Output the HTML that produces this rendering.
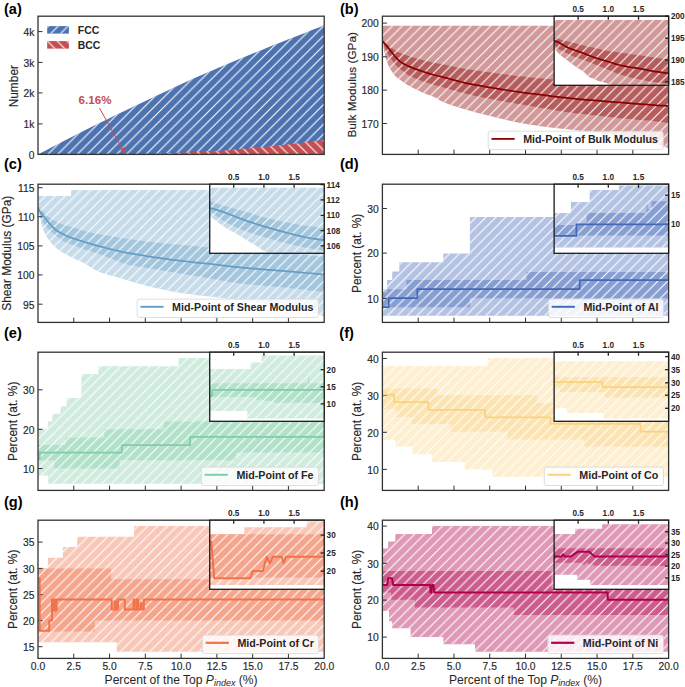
<!DOCTYPE html><html><head><meta charset="utf-8"><style>html,body{margin:0;padding:0;background:#fff;overflow:hidden}svg{display:block;font-family:"Liberation Sans",sans-serif}</style></head><body><svg width="685" height="687" viewBox="0 0 685 687" font-family="Liberation Sans, sans-serif"><defs><pattern id="hf" patternUnits="userSpaceOnUse" x="5.7" y="0" width="9.824" height="9.824"><path d="M-2,2 L2,-2 M0,9.824 L9.824,0 M7.824,11.824 L11.824,7.824" stroke="#fff" stroke-width="1.05"/></pattern><pattern id="hb" patternUnits="userSpaceOnUse" x="6.3" y="0" width="9.824" height="9.824"><path d="M-2,7.824 L2,11.824 M0,0 L9.824,9.824 M7.824,-2 L11.824,2" stroke="#fff" stroke-width="1.05"/></pattern><clipPath id="ca"><rect x="38" y="16.2" width="286.2" height="138.2"/></clipPath><clipPath id="cb"><rect x="382.4" y="16.2" width="286.2" height="138.2"/></clipPath><clipPath id="cbi"><rect x="554.12" y="16.2" width="114.48" height="69.1"/></clipPath><clipPath id="cc"><rect x="38" y="184.2" width="286.2" height="138.2"/></clipPath><clipPath id="cci"><rect x="209.72" y="184.2" width="114.48" height="69.1"/></clipPath><clipPath id="cd"><rect x="382.4" y="184.2" width="286.2" height="138.2"/></clipPath><clipPath id="cdi"><rect x="554.12" y="184.2" width="114.48" height="69.1"/></clipPath><clipPath id="ce"><rect x="38" y="352.2" width="286.2" height="138.2"/></clipPath><clipPath id="cei"><rect x="209.72" y="352.2" width="114.48" height="69.1"/></clipPath><clipPath id="cf"><rect x="382.4" y="352.2" width="286.2" height="138.2"/></clipPath><clipPath id="cfi"><rect x="554.12" y="352.2" width="114.48" height="69.1"/></clipPath><clipPath id="cg"><rect x="38" y="520.2" width="286.2" height="138.2"/></clipPath><clipPath id="cgi"><rect x="209.72" y="520.2" width="114.48" height="69.1"/></clipPath><clipPath id="ch"><rect x="382.4" y="520.2" width="286.2" height="138.2"/></clipPath><clipPath id="chi"><rect x="554.12" y="520.2" width="114.48" height="69.1"/></clipPath></defs><rect width="100%" height="100%" fill="#fff"/><g clip-path="url(#ca)"><polygon points="38,154.4 41.64,152.53 46.23,150.16 51.62,147.37 57.68,144.24 64.27,140.84 71.27,137.24 78.54,133.54 85.94,129.79 93.34,126.09 100.6,122.5 107.99,118.89 115.79,115.1 123.91,111.18 132.23,107.18 140.67,103.15 149.12,99.14 157.47,95.2 165.64,91.38 173.52,87.73 181,84.3 188.04,81.11 194.72,78.11 201.13,75.27 207.35,72.55 213.47,69.91 219.58,67.3 225.77,64.68 232.13,62.02 238.74,59.27 245.7,56.4 253.34,53.28 261.77,49.89 270.71,46.33 279.87,42.7 288.99,39.11 297.79,35.65 305.99,32.44 313.3,29.58 319.47,27.16 324.2,25.3 324.2,154.6 38,154.6" fill="#4c72b0"/><polygon points="38,154.4 41.64,152.53 46.23,150.16 51.62,147.37 57.68,144.24 64.27,140.84 71.27,137.24 78.54,133.54 85.94,129.79 93.34,126.09 100.6,122.5 107.99,118.89 115.79,115.1 123.91,111.18 132.23,107.18 140.67,103.15 149.12,99.14 157.47,95.2 165.64,91.38 173.52,87.73 181,84.3 188.04,81.11 194.72,78.11 201.13,75.27 207.35,72.55 213.47,69.91 219.58,67.3 225.77,64.68 232.13,62.02 238.74,59.27 245.7,56.4 253.34,53.28 261.77,49.89 270.71,46.33 279.87,42.7 288.99,39.11 297.79,35.65 305.99,32.44 313.3,29.58 319.47,27.16 324.2,25.3 324.2,154.6 38,154.6" fill="url(#hf)"/><polygon points="140,154.6 141.59,154.52 143.81,154.41 146.63,154.27 150,154.1 154.21,153.87 159.19,153.6 164.32,153.33 169,153.1 173.05,152.94 176.81,152.83 180.41,152.73 184,152.6 187.55,152.44 191,152.27 194.45,152.09 198,151.9 201.68,151.71 205.44,151.51 209.23,151.3 213,151.1 216.94,150.9 221,150.69 224.81,150.49 228,150.3 230.17,150.13 231.62,149.97 233.02,149.8 235,149.6 237.83,149.36 241.12,149.09 244.61,148.8 248,148.5 251.25,148.19 254.5,147.86 257.75,147.53 261,147.2 264.23,146.88 267.44,146.56 270.68,146.23 274,145.9 277.45,145.56 281,145.22 284.55,144.87 288,144.5 291.32,144.12 294.56,143.72 297.77,143.31 301,142.9 304.32,142.47 307.68,142.02 310.95,141.59 314,141.2 316.99,140.84 319.91,140.49 322.43,140.2 324.2,140 324.2,154.6" fill="#c44e52"/><polygon points="140,154.6 141.59,154.52 143.81,154.41 146.63,154.27 150,154.1 154.21,153.87 159.19,153.6 164.32,153.33 169,153.1 173.05,152.94 176.81,152.83 180.41,152.73 184,152.6 187.55,152.44 191,152.27 194.45,152.09 198,151.9 201.68,151.71 205.44,151.51 209.23,151.3 213,151.1 216.94,150.9 221,150.69 224.81,150.49 228,150.3 230.17,150.13 231.62,149.97 233.02,149.8 235,149.6 237.83,149.36 241.12,149.09 244.61,148.8 248,148.5 251.25,148.19 254.5,147.86 257.75,147.53 261,147.2 264.23,146.88 267.44,146.56 270.68,146.23 274,145.9 277.45,145.56 281,145.22 284.55,144.87 288,144.5 291.32,144.12 294.56,143.72 297.77,143.31 301,142.9 304.32,142.47 307.68,142.02 310.95,141.59 314,141.2 316.99,140.84 319.91,140.49 322.43,140.2 324.2,140 324.2,154.6" fill="url(#hb)"/></g><text x="78.6" y="103.7" font-size="11.6" text-anchor="start" font-weight="bold" fill="#c44e52" >6.16%</text><line x1="99.5" y1="108.2" x2="122.2" y2="148.5" stroke="#c44e52" stroke-width="1"/><polygon points="124.6,152.9 120.0,149.7 125.1,146.8" fill="#c44e52"/><rect x="47.2" y="26.1" width="21.7" height="7.5" fill="#4c72b0"/><rect x="47.2" y="26.1" width="21.7" height="7.5" fill="url(#hf)"/><rect x="47.2" y="41.1" width="21.7" height="7.5" fill="#c44e52"/><rect x="47.2" y="41.1" width="21.7" height="7.5" fill="url(#hb)"/><text x="77.8" y="33.6" font-size="10.4" text-anchor="start" font-weight="bold" fill="#262626" >FCC</text><text x="77.8" y="48.5" font-size="10.4" text-anchor="start" font-weight="bold" fill="#262626" >BCC</text><line x1="38" y1="154.4" x2="42.5" y2="154.4" stroke="#333333" stroke-width="1"/><text x="34.4" y="158.7" font-size="10.3" text-anchor="end" font-weight="normal" fill="#262626" stroke="#262626" stroke-width="0.15" >0</text><line x1="38" y1="123.9" x2="42.5" y2="123.9" stroke="#333333" stroke-width="1"/><text x="34.4" y="128.2" font-size="10.3" text-anchor="end" font-weight="normal" fill="#262626" stroke="#262626" stroke-width="0.15" >1k</text><line x1="38" y1="92.9" x2="42.5" y2="92.9" stroke="#333333" stroke-width="1"/><text x="34.4" y="97.2" font-size="10.3" text-anchor="end" font-weight="normal" fill="#262626" stroke="#262626" stroke-width="0.15" >2k</text><line x1="38" y1="62.4" x2="42.5" y2="62.4" stroke="#333333" stroke-width="1"/><text x="34.4" y="66.7" font-size="10.3" text-anchor="end" font-weight="normal" fill="#262626" stroke="#262626" stroke-width="0.15" >3k</text><line x1="38" y1="31.6" x2="42.5" y2="31.6" stroke="#333333" stroke-width="1"/><text x="34.4" y="35.9" font-size="10.3" text-anchor="end" font-weight="normal" fill="#262626" stroke="#262626" stroke-width="0.15" >4k</text><rect x="38" y="16.2" width="286.2" height="138.2" fill="none" stroke="#333333" stroke-width="1.3"/><text x="18.4" y="86.2" font-size="11.9" text-anchor="middle" fill="#262626" stroke="#262626" stroke-width="0.15" transform="rotate(-90 18.4 86.2)">Number</text><text x="4" y="13.9" font-size="14.6" font-weight="bold" fill="#000">(a)</text><g clip-path="url(#cb)"><polygon points="382.4,25.8 668.6,25.8 668.6,148 664.89,146.9 659.77,145.33 653.63,143.51 646.91,141.66 640,140 632.73,138.5 624.82,137.01 616.55,135.57 608.18,134.22 600,133 591.86,131.93 583.57,131 575.35,130.14 567.42,129.33 560,128.5 553.1,127.68 546.59,126.9 540.42,126.13 534.57,125.34 529,124.5 523.79,123.61 518.95,122.68 514.38,121.74 509.97,120.77 505.6,119.8 501.33,118.83 497.23,117.85 493.22,116.85 489.24,115.84 485.2,114.8 481.1,113.75 477,112.69 472.9,111.61 468.8,110.48 464.7,109.3 460.4,108 455.89,106.58 451.5,105.15 447.53,103.79 444.3,102.6 442.01,101.59 440.45,100.7 439.33,99.91 438.34,99.18 437.2,98.5 435.9,97.87 434.64,97.32 433.42,96.82 432.24,96.36 431.1,95.9 430.02,95.46 428.99,95.06 427.99,94.68 427,94.3 426,93.9 424.98,93.49 423.96,93.09 422.94,92.67 421.92,92.25 420.9,91.8 419.88,91.33 418.86,90.83 417.84,90.33 416.82,89.81 415.8,89.3 414.78,88.79 413.76,88.29 412.75,87.78 411.73,87.25 410.7,86.7 409.66,86.12 408.62,85.52 407.58,84.89 406.54,84.25 405.5,83.6 404.47,82.94 403.45,82.26 402.44,81.56 401.42,80.84 400.4,80.1 399.38,79.37 398.36,78.65 397.34,77.89 396.32,77.03 395.3,76 394.24,74.72 393.14,73.24 392.05,71.68 391.05,70.16 390.2,68.8 389.54,67.7 389.02,66.76 388.58,65.86 388.16,64.88 387.7,63.7 387.18,62.31 386.64,60.79 386.1,59.14 385.58,57.38 385.1,55.5 384.64,53.3 384.19,50.78 383.78,48.25 383.41,45.99 383.1,44.3 382.87,43.31 382.69,42.82 382.57,42.64 382.47,42.59 382.4,42.5" fill="#d19999"/><polygon points="382.4,40 382.39,40.01 382.32,39.97 382.33,39.99 382.54,40.2 383.1,40.7 384.14,41.63 385.58,42.91 387.2,44.35 388.81,45.74 390.2,46.9 391.35,47.79 392.38,48.54 393.36,49.19 394.31,49.8 395.3,50.4 396.24,50.96 397.09,51.45 397.99,51.92 399.05,52.42 400.4,53 402.13,53.7 404.15,54.48 406.34,55.29 408.56,56.08 410.7,56.8 412.75,57.43 414.79,58 416.82,58.54 418.86,59.07 420.9,59.6 422.94,60.14 424.98,60.68 427.02,61.21 429.06,61.72 431.1,62.2 433.16,62.64 435.25,63.06 437.33,63.46 439.36,63.84 441.3,64.2 443.04,64.52 444.6,64.8 446.16,65.08 447.9,65.4 450,65.8 452.46,66.31 455.17,66.9 458.11,67.54 461.29,68.18 464.7,68.8 468.43,69.39 472.49,69.97 476.73,70.55 481.01,71.13 485.2,71.7 489.3,72.27 493.42,72.85 497.52,73.42 501.59,73.97 505.6,74.5 509.41,74.99 513.02,75.44 516.67,75.88 520.59,76.32 525,76.8 529.57,77.29 534.16,77.79 539.25,78.31 545.36,78.87 553,79.5 562.64,80.23 573.93,81.05 586.18,81.91 598.67,82.74 610.7,83.5 623.19,84.21 636.62,84.92 649.6,85.56 660.72,86.11 668.6,86.5 668.6,123 666.6,122.73 663.84,122.34 660.52,121.9 656.84,121.43 653,121 649.04,120.62 644.84,120.27 640.31,119.91 635.39,119.5 630,119 623.86,118.39 617.02,117.68 609.9,116.93 602.92,116.19 596.5,115.5 590.73,114.9 585.32,114.35 580.16,113.82 575.09,113.25 570,112.6 564.82,111.85 559.65,111.02 554.57,110.15 549.66,109.3 545,108.5 540.67,107.76 536.61,107.04 532.72,106.35 528.88,105.67 525,105 521.1,104.35 517.24,103.73 513.4,103.11 509.53,102.47 505.6,101.8 501.59,101.09 497.52,100.37 493.42,99.61 489.3,98.83 485.2,98 481.01,97.11 476.73,96.16 472.49,95.18 468.43,94.22 464.7,93.3 461.29,92.41 458.11,91.54 455.17,90.69 452.46,89.9 450,89.2 447.9,88.62 446.16,88.14 444.6,87.71 443.04,87.28 441.3,86.8 439.36,86.28 437.33,85.74 435.25,85.19 433.16,84.61 431.1,84 429.06,83.35 427.02,82.67 424.98,81.97 422.94,81.24 420.9,80.5 418.78,79.72 416.58,78.91 414.42,78.09 412.42,77.28 410.7,76.5 409.34,75.77 408.26,75.07 407.33,74.39 406.45,73.7 405.5,73 404.47,72.29 403.45,71.59 402.44,70.87 401.42,70.11 400.4,69.3 399.38,68.44 398.36,67.56 397.34,66.62 396.32,65.61 395.3,64.5 394.26,63.26 393.21,61.91 392.17,60.48 391.16,59.03 390.2,57.6 389.3,56.18 388.44,54.74 387.61,53.29 386.83,51.84 386.1,50.4 385.39,48.88 384.71,47.27 384.08,45.72 383.54,44.35 383.1,43.3 382.8,42.65 382.62,42.3 382.52,42.15 382.46,42.08 382.4,42" fill="#b55c5c"/><polygon points="382.4,25.8 668.6,25.8 668.6,148 664.89,146.9 659.77,145.33 653.63,143.51 646.91,141.66 640,140 632.73,138.5 624.82,137.01 616.55,135.57 608.18,134.22 600,133 591.86,131.93 583.57,131 575.35,130.14 567.42,129.33 560,128.5 553.1,127.68 546.59,126.9 540.42,126.13 534.57,125.34 529,124.5 523.79,123.61 518.95,122.68 514.38,121.74 509.97,120.77 505.6,119.8 501.33,118.83 497.23,117.85 493.22,116.85 489.24,115.84 485.2,114.8 481.1,113.75 477,112.69 472.9,111.61 468.8,110.48 464.7,109.3 460.4,108 455.89,106.58 451.5,105.15 447.53,103.79 444.3,102.6 442.01,101.59 440.45,100.7 439.33,99.91 438.34,99.18 437.2,98.5 435.9,97.87 434.64,97.32 433.42,96.82 432.24,96.36 431.1,95.9 430.02,95.46 428.99,95.06 427.99,94.68 427,94.3 426,93.9 424.98,93.49 423.96,93.09 422.94,92.67 421.92,92.25 420.9,91.8 419.88,91.33 418.86,90.83 417.84,90.33 416.82,89.81 415.8,89.3 414.78,88.79 413.76,88.29 412.75,87.78 411.73,87.25 410.7,86.7 409.66,86.12 408.62,85.52 407.58,84.89 406.54,84.25 405.5,83.6 404.47,82.94 403.45,82.26 402.44,81.56 401.42,80.84 400.4,80.1 399.38,79.37 398.36,78.65 397.34,77.89 396.32,77.03 395.3,76 394.24,74.72 393.14,73.24 392.05,71.68 391.05,70.16 390.2,68.8 389.54,67.7 389.02,66.76 388.58,65.86 388.16,64.88 387.7,63.7 387.18,62.31 386.64,60.79 386.1,59.14 385.58,57.38 385.1,55.5 384.64,53.3 384.19,50.78 383.78,48.25 383.41,45.99 383.1,44.3 382.87,43.31 382.69,42.82 382.57,42.64 382.47,42.59 382.4,42.5" fill="url(#hf)"/></g><line x1="418.17" y1="154.4" x2="418.17" y2="149.6" stroke="#333333" stroke-width="1"/><line x1="453.95" y1="154.4" x2="453.95" y2="149.6" stroke="#333333" stroke-width="1"/><line x1="489.72" y1="154.4" x2="489.72" y2="149.6" stroke="#333333" stroke-width="1"/><line x1="525.5" y1="154.4" x2="525.5" y2="149.6" stroke="#333333" stroke-width="1"/><line x1="561.27" y1="154.4" x2="561.27" y2="149.6" stroke="#333333" stroke-width="1"/><line x1="597.05" y1="154.4" x2="597.05" y2="149.6" stroke="#333333" stroke-width="1"/><line x1="632.82" y1="154.4" x2="632.82" y2="149.6" stroke="#333333" stroke-width="1"/><line x1="382.4" y1="23.1" x2="386.9" y2="23.1" stroke="#333333" stroke-width="1"/><text x="378.8" y="27.4" font-size="10.3" text-anchor="end" font-weight="normal" fill="#262626" stroke="#262626" stroke-width="0.15" >200</text><line x1="382.4" y1="56.8" x2="386.9" y2="56.8" stroke="#333333" stroke-width="1"/><text x="378.8" y="61.1" font-size="10.3" text-anchor="end" font-weight="normal" fill="#262626" stroke="#262626" stroke-width="0.15" >190</text><line x1="382.4" y1="90.1" x2="386.9" y2="90.1" stroke="#333333" stroke-width="1"/><text x="378.8" y="94.4" font-size="10.3" text-anchor="end" font-weight="normal" fill="#262626" stroke="#262626" stroke-width="0.15" >180</text><line x1="382.4" y1="123.5" x2="386.9" y2="123.5" stroke="#333333" stroke-width="1"/><text x="378.8" y="127.8" font-size="10.3" text-anchor="end" font-weight="normal" fill="#262626" stroke="#262626" stroke-width="0.15" >170</text><g clip-path="url(#cb)"><polyline points="382.4,41 382.46,41.07 382.52,41.13 382.62,41.25 382.8,41.45 383.1,41.8 383.54,42.3 384.08,42.93 384.71,43.66 385.39,44.45 386.1,45.3 386.85,46.22 387.66,47.22 388.51,48.28 389.36,49.35 390.2,50.4 391.02,51.43 391.84,52.46 392.66,53.5 393.48,54.51 394.3,55.5 395.1,56.47 395.89,57.42 396.69,58.36 397.52,59.25 398.4,60.1 399.32,60.89 400.27,61.62 401.26,62.32 402.33,63.01 403.5,63.7 404.76,64.39 406.08,65.06 407.5,65.73 409.03,66.4 410.7,67.1 412.55,67.83 414.56,68.57 416.68,69.33 418.81,70.07 420.9,70.8 422.94,71.51 424.98,72.22 427.02,72.92 429.06,73.58 431.1,74.2 433.16,74.76 435.25,75.27 437.33,75.76 439.36,76.23 441.3,76.7 443.04,77.15 444.6,77.56 446.16,77.98 447.9,78.45 450,79 452.46,79.66 455.17,80.41 458.11,81.21 461.29,82.02 464.7,82.8 468.43,83.57 472.49,84.34 476.73,85.11 481.01,85.87 485.2,86.6 489.24,87.31 493.22,87.99 497.23,88.67 501.33,89.33 505.6,90 509.81,90.64 513.9,91.25 518.24,91.87 523.15,92.54 529,93.3 536.06,94.2 544.1,95.21 552.71,96.26 561.45,97.28 569.9,98.2 578.06,99.01 586.22,99.76 594.38,100.46 602.54,101.13 610.7,101.8 619.26,102.48 628.2,103.17 636.96,103.83 644.95,104.42 651.6,104.9 656.8,105.27 660.94,105.54 664.17,105.74 666.67,105.88 668.6,106" fill="none" stroke="#8b0000" stroke-width="1.75" stroke-linejoin="round"/></g><rect x="488.2" y="131.2" width="175.1" height="18.4" rx="2.5" fill="#fff" fill-opacity="0.8" stroke="#d6d6d6" stroke-width="0.8"/><line x1="491.5" y1="138.9" x2="514.7" y2="138.9" stroke="#8b0000" stroke-width="1.8"/><text x="523.2" y="143.1" font-size="10.7" text-anchor="start" font-weight="bold" fill="#262626" >Mid-Point of Bulk Modulus</text><rect x="382.4" y="16.2" width="286.2" height="138.2" fill="none" stroke="#333333" stroke-width="1.3"/><rect x="554.12" y="16.2" width="114.48" height="69.1" fill="#fff"/><g clip-path="url(#cbi)"><polygon points="553.9,19.9 668.6,19.9 668.6,105 661.23,102.54 650.55,98.97 639.25,95.17 630,92 623.36,89.61 617.96,87.57 613.57,85.87 610,84.5 607.51,83.57 606.12,83.06 605.19,82.74 604.1,82.4 602.77,82.06 601.5,81.82 600.26,81.56 599,81.2 597.73,80.67 596.45,80.05 595.17,79.4 593.9,78.8 592.62,78.34 591.35,77.97 590.07,77.51 588.8,76.8 587.53,75.7 586.26,74.32 584.98,72.91 583.7,71.7 582.4,70.8 581.1,70.06 579.8,69.36 578.5,68.6 577.22,67.74 575.94,66.86 574.67,65.94 573.4,65 572.12,64.02 570.85,63 569.57,61.98 568.3,61 567.02,60.1 565.75,59.24 564.48,58.36 563.2,57.4 561.89,56.31 560.56,55.13 559.27,53.94 558.1,52.8 557.02,51.65 556.02,50.48 555.15,49.44 554.5,48.7 554.12,48.37 553.97,48.34 553.94,48.44 553.9,48.5" fill="#d19999"/><polygon points="553.9,37.3 553.94,37.31 553.97,37.32 554.12,37.38 554.5,37.5 555.15,37.72 556.02,38 557.02,38.33 558.1,38.7 559.15,39.1 560.24,39.53 561.53,40 563.2,40.5 565.39,41.03 567.98,41.59 570.72,42.18 573.4,42.8 575.97,43.48 578.55,44.21 581.13,44.94 583.7,45.6 586.26,46.16 588.81,46.67 591.35,47.16 593.9,47.7 596.45,48.32 599,48.98 601.55,49.63 604.1,50.2 606.53,50.65 608.88,51.02 611.38,51.38 614.3,51.8 617.91,52.33 622,52.92 626.09,53.5 629.7,54 632.62,54.38 635.12,54.69 637.47,54.98 639.9,55.3 642.45,55.68 645,56.09 647.55,56.5 650.1,56.9 652.69,57.29 655.32,57.68 657.88,58.06 660.3,58.4 662.7,58.73 665.09,59.04 667.15,59.31 668.6,59.5 668.6,84 667.15,83.81 665.09,83.54 662.7,83.23 660.3,82.9 657.88,82.56 655.32,82.21 652.69,81.82 650.1,81.4 647.55,80.94 645,80.44 642.45,79.92 639.9,79.4 637.35,78.91 634.81,78.42 632.26,77.9 629.7,77.3 627.13,76.62 624.55,75.87 621.97,75.06 619.4,74.2 616.72,73.22 613.98,72.14 611.39,71.09 609.2,70.2 607.69,69.59 606.65,69.16 605.61,68.72 604.1,68.1 601.91,67.22 599.32,66.17 596.57,65.07 593.9,64 591.35,62.96 588.81,61.91 586.26,60.88 583.7,59.9 581.01,58.96 578.23,58.06 575.61,57.2 573.4,56.4 571.76,55.68 570.52,55.04 569.45,54.42 568.3,53.8 567.02,53.17 565.75,52.55 564.48,51.93 563.2,51.3 561.89,50.67 560.56,50.04 559.27,49.39 558.1,48.7 557.02,47.89 556.02,47 555.15,46.18 554.5,45.6 554.12,45.34 553.97,45.31 553.94,45.37 553.9,45.4" fill="#b55c5c"/><polygon points="553.9,19.9 668.6,19.9 668.6,105 661.23,102.54 650.55,98.97 639.25,95.17 630,92 623.36,89.61 617.96,87.57 613.57,85.87 610,84.5 607.51,83.57 606.12,83.06 605.19,82.74 604.1,82.4 602.77,82.06 601.5,81.82 600.26,81.56 599,81.2 597.73,80.67 596.45,80.05 595.17,79.4 593.9,78.8 592.62,78.34 591.35,77.97 590.07,77.51 588.8,76.8 587.53,75.7 586.26,74.32 584.98,72.91 583.7,71.7 582.4,70.8 581.1,70.06 579.8,69.36 578.5,68.6 577.22,67.74 575.94,66.86 574.67,65.94 573.4,65 572.12,64.02 570.85,63 569.57,61.98 568.3,61 567.02,60.1 565.75,59.24 564.48,58.36 563.2,57.4 561.89,56.31 560.56,55.13 559.27,53.94 558.1,52.8 557.02,51.65 556.02,50.48 555.15,49.44 554.5,48.7 554.12,48.37 553.97,48.34 553.94,48.44 553.9,48.5" fill="url(#hf)"/></g><line x1="578.12" y1="16.2" x2="578.12" y2="19.8" stroke="#262626" stroke-width="1.3"/><text x="578.12" y="11.6" font-size="8.2" text-anchor="middle" font-weight="bold" fill="#262626" >0.5</text><line x1="608.32" y1="16.2" x2="608.32" y2="19.8" stroke="#262626" stroke-width="1.3"/><text x="608.32" y="11.6" font-size="8.2" text-anchor="middle" font-weight="bold" fill="#262626" >1.0</text><line x1="638.52" y1="16.2" x2="638.52" y2="19.8" stroke="#262626" stroke-width="1.3"/><text x="638.52" y="11.6" font-size="8.2" text-anchor="middle" font-weight="bold" fill="#262626" >1.5</text><line x1="668.6" y1="16.1" x2="665" y2="16.1" stroke="#262626" stroke-width="1.3"/><text x="671" y="19" font-size="8.2" text-anchor="start" font-weight="bold" fill="#262626" >200</text><line x1="668.6" y1="38.2" x2="665" y2="38.2" stroke="#262626" stroke-width="1.3"/><text x="671" y="41.1" font-size="8.2" text-anchor="start" font-weight="bold" fill="#262626" >195</text><line x1="668.6" y1="60" x2="665" y2="60" stroke="#262626" stroke-width="1.3"/><text x="671" y="62.9" font-size="8.2" text-anchor="start" font-weight="bold" fill="#262626" >190</text><line x1="668.6" y1="81.8" x2="665" y2="81.8" stroke="#262626" stroke-width="1.3"/><text x="671" y="84.7" font-size="8.2" text-anchor="start" font-weight="bold" fill="#262626" >185</text><g clip-path="url(#cbi)"><polyline points="553.9,41 553.94,40.97 553.97,40.93 554.12,40.92 554.5,41 555.15,41.15 556.02,41.36 557.02,41.67 558.1,42.1 559.27,42.73 560.56,43.51 561.89,44.33 563.2,45.1 564.48,45.79 565.75,46.46 567.02,47.1 568.3,47.7 569.45,48.2 570.52,48.64 571.76,49.1 573.4,49.7 575.61,50.48 578.23,51.37 581.01,52.33 583.7,53.3 586.38,54.35 589.12,55.48 591.71,56.55 593.9,57.4 595.41,57.92 596.45,58.21 597.49,58.47 599,58.9 601.19,59.56 603.78,60.36 606.53,61.19 609.2,62 611.75,62.78 614.29,63.56 616.84,64.32 619.4,65 621.97,65.6 624.55,66.14 627.13,66.64 629.7,67.1 632.26,67.5 634.81,67.85 637.35,68.2 639.9,68.6 642.45,69.1 645,69.65 647.55,70.2 650.1,70.7 652.69,71.13 655.32,71.51 657.88,71.87 660.3,72.2 662.7,72.53 665.09,72.84 667.15,73.11 668.6,73.3" fill="none" stroke="#8b0000" stroke-width="1.75" stroke-linejoin="round"/></g><rect x="554.12" y="16.2" width="114.48" height="69.1" fill="none" stroke="#1a1a1a" stroke-width="1.3"/><text x="356.1" y="84.8" font-size="11.8" text-anchor="middle" fill="#262626" stroke="#262626" stroke-width="0.15" transform="rotate(-90 356.1 84.8)">Bulk Modulus (GPa)</text><text x="339.9" y="14" font-size="14.6" font-weight="bold" fill="#000">(b)</text><g clip-path="url(#cc)"><polygon points="38,195.9 71.1,195.9 71.1,190.1 324.2,190.1 324.2,316.5 322.18,315.78 319.55,314.77 316.16,313.57 311.89,312.28 306.6,311 299.89,309.67 291.86,308.24 283.09,306.76 274.18,305.33 265.7,304 257.46,302.76 249.08,301.57 240.84,300.45 233.04,299.42 226,298.5 219.86,297.74 214.42,297.12 209.45,296.58 204.72,296.06 200,295.5 195.27,294.91 190.69,294.32 186.28,293.74 182.04,293.13 178,292.5 174.27,291.85 170.85,291.2 167.56,290.52 164.2,289.8 160.6,289 156.71,288.13 152.66,287.2 148.51,286.21 144.33,285.18 140.2,284.1 136.1,282.96 132,281.75 127.9,280.5 123.8,279.24 119.7,278 115.53,276.82 111.29,275.69 107.09,274.54 103.05,273.3 99.3,271.9 95.78,270.21 92.42,268.26 89.28,266.28 86.45,264.45 84,263 82.02,262 80.47,261.32 79.2,260.83 78.06,260.4 76.9,259.9 75.75,259.35 74.72,258.82 73.74,258.31 72.79,257.81 71.8,257.3 70.78,256.8 69.76,256.32 68.75,255.84 67.73,255.34 66.7,254.8 65.66,254.23 64.62,253.63 63.58,253 62.54,252.36 61.5,251.7 60.47,251.04 59.45,250.37 58.44,249.67 57.42,248.92 56.4,248.1 55.38,247.21 54.36,246.26 53.34,245.26 52.32,244.17 51.3,243 50.24,241.68 49.14,240.21 48.05,238.69 47.05,237.22 46.2,235.9 45.54,234.8 45.02,233.86 44.58,232.97 44.16,231.99 43.7,230.8 43.18,229.42 42.66,227.94 42.14,226.32 41.62,224.55 41.1,222.6 40.56,220.21 40,217.41 39.46,214.57 38.98,212.07 38.6,210.3 38.35,209.44 38.19,209.23 38.11,209.4 38.05,209.68 38,209.8" fill="#c7dcea"/><polygon points="38,206.2 37.97,206.16 37.86,206.04 37.83,205.99 38.02,206.19 38.6,206.8 39.71,208 41.26,209.69 43,211.59 44.73,213.42 46.2,214.9 47.38,216 48.42,216.89 49.38,217.65 50.32,218.33 51.3,219 52.32,219.65 53.34,220.24 54.36,220.78 55.38,221.29 56.4,221.8 57.42,222.3 58.44,222.79 59.45,223.25 60.47,223.69 61.5,224.1 62.45,224.44 63.33,224.72 64.26,224.99 65.34,225.3 66.7,225.7 68.42,226.21 70.42,226.79 72.58,227.43 74.78,228.07 76.9,228.7 78.94,229.33 80.98,229.99 83.02,230.63 85.06,231.25 87.1,231.8 89.16,232.28 91.25,232.7 93.33,233.08 95.36,233.44 97.3,233.8 99.06,234.13 100.65,234.43 102.23,234.72 103.96,235.04 106,235.4 108.47,235.84 111.28,236.35 114.22,236.87 117.1,237.36 119.7,237.8 121.58,238.12 122.88,238.34 124.26,238.56 126.41,238.85 130,239.3 135.26,239.95 141.74,240.75 149.09,241.64 156.96,242.54 165,243.4 173.19,244.21 181.77,245.02 190.75,245.83 200.16,246.65 210,247.5 220.41,248.37 231.38,249.27 242.7,250.18 254.21,251.09 265.7,252 278.16,252.97 291.71,254.02 304.88,255.02 316.2,255.89 324.2,256.5 324.2,292.1 318.46,291.41 310.35,290.44 300.89,289.31 291.1,288.18 282,287.2 273.4,286.4 264.61,285.7 255.93,285.02 247.63,284.3 240,283.5 233.47,282.62 227.86,281.72 222.5,280.75 216.77,279.69 210,278.5 201.8,277.12 192.6,275.57 183,273.94 173.6,272.35 165,270.9 156.96,269.56 149.09,268.28 141.74,267.07 135.26,265.97 130,265 126.41,264.26 124.26,263.72 122.88,263.25 121.58,262.72 119.7,262 117.1,261 114.22,259.82 111.28,258.58 108.47,257.4 106,256.4 103.96,255.64 102.23,255.02 100.65,254.49 99.06,253.97 97.3,253.4 95.36,252.78 93.33,252.15 91.25,251.52 89.16,250.87 87.1,250.2 85.06,249.51 83.02,248.81 80.98,248.1 78.94,247.36 76.9,246.6 74.78,245.79 72.58,244.92 70.42,244.05 68.42,243.23 66.7,242.5 65.34,241.92 64.26,241.46 63.33,241.04 62.45,240.58 61.5,240 60.47,239.28 59.45,238.48 58.44,237.62 57.42,236.75 56.4,235.9 55.38,235.1 54.36,234.31 53.34,233.51 52.32,232.68 51.3,231.8 50.26,230.86 49.21,229.88 48.17,228.87 47.16,227.81 46.2,226.7 45.31,225.58 44.46,224.44 43.65,223.24 42.87,221.94 42.1,220.5 41.32,218.73 40.52,216.66 39.76,214.57 39.1,212.72 38.6,211.4 38.28,210.73 38.12,210.52 38.06,210.59 38.04,210.75 38,210.8" fill="#a3c6dd"/><polygon points="38,195.9 71.1,195.9 71.1,190.1 324.2,190.1 324.2,316.5 322.18,315.78 319.55,314.77 316.16,313.57 311.89,312.28 306.6,311 299.89,309.67 291.86,308.24 283.09,306.76 274.18,305.33 265.7,304 257.46,302.76 249.08,301.57 240.84,300.45 233.04,299.42 226,298.5 219.86,297.74 214.42,297.12 209.45,296.58 204.72,296.06 200,295.5 195.27,294.91 190.69,294.32 186.28,293.74 182.04,293.13 178,292.5 174.27,291.85 170.85,291.2 167.56,290.52 164.2,289.8 160.6,289 156.71,288.13 152.66,287.2 148.51,286.21 144.33,285.18 140.2,284.1 136.1,282.96 132,281.75 127.9,280.5 123.8,279.24 119.7,278 115.53,276.82 111.29,275.69 107.09,274.54 103.05,273.3 99.3,271.9 95.78,270.21 92.42,268.26 89.28,266.28 86.45,264.45 84,263 82.02,262 80.47,261.32 79.2,260.83 78.06,260.4 76.9,259.9 75.75,259.35 74.72,258.82 73.74,258.31 72.79,257.81 71.8,257.3 70.78,256.8 69.76,256.32 68.75,255.84 67.73,255.34 66.7,254.8 65.66,254.23 64.62,253.63 63.58,253 62.54,252.36 61.5,251.7 60.47,251.04 59.45,250.37 58.44,249.67 57.42,248.92 56.4,248.1 55.38,247.21 54.36,246.26 53.34,245.26 52.32,244.17 51.3,243 50.24,241.68 49.14,240.21 48.05,238.69 47.05,237.22 46.2,235.9 45.54,234.8 45.02,233.86 44.58,232.97 44.16,231.99 43.7,230.8 43.18,229.42 42.66,227.94 42.14,226.32 41.62,224.55 41.1,222.6 40.56,220.21 40,217.41 39.46,214.57 38.98,212.07 38.6,210.3 38.35,209.44 38.19,209.23 38.11,209.4 38.05,209.68 38,209.8" fill="url(#hf)"/></g><line x1="73.78" y1="322.4" x2="73.78" y2="317.6" stroke="#333333" stroke-width="1"/><line x1="109.55" y1="322.4" x2="109.55" y2="317.6" stroke="#333333" stroke-width="1"/><line x1="145.32" y1="322.4" x2="145.32" y2="317.6" stroke="#333333" stroke-width="1"/><line x1="181.1" y1="322.4" x2="181.1" y2="317.6" stroke="#333333" stroke-width="1"/><line x1="216.88" y1="322.4" x2="216.88" y2="317.6" stroke="#333333" stroke-width="1"/><line x1="252.65" y1="322.4" x2="252.65" y2="317.6" stroke="#333333" stroke-width="1"/><line x1="288.42" y1="322.4" x2="288.42" y2="317.6" stroke="#333333" stroke-width="1"/><line x1="38" y1="187.7" x2="42.5" y2="187.7" stroke="#333333" stroke-width="1"/><text x="34.4" y="192" font-size="10.3" text-anchor="end" font-weight="normal" fill="#262626" stroke="#262626" stroke-width="0.15" >115</text><line x1="38" y1="216.7" x2="42.5" y2="216.7" stroke="#333333" stroke-width="1"/><text x="34.4" y="221" font-size="10.3" text-anchor="end" font-weight="normal" fill="#262626" stroke="#262626" stroke-width="0.15" >110</text><line x1="38" y1="245.9" x2="42.5" y2="245.9" stroke="#333333" stroke-width="1"/><text x="34.4" y="250.2" font-size="10.3" text-anchor="end" font-weight="normal" fill="#262626" stroke="#262626" stroke-width="0.15" >105</text><line x1="38" y1="274.9" x2="42.5" y2="274.9" stroke="#333333" stroke-width="1"/><text x="34.4" y="279.2" font-size="10.3" text-anchor="end" font-weight="normal" fill="#262626" stroke="#262626" stroke-width="0.15" >100</text><line x1="38" y1="304.2" x2="42.5" y2="304.2" stroke="#333333" stroke-width="1"/><text x="34.4" y="308.5" font-size="10.3" text-anchor="end" font-weight="normal" fill="#262626" stroke="#262626" stroke-width="0.15" >95</text><g clip-path="url(#cc)"><polyline points="38,209 38.04,209.05 38.06,209.08 38.12,209.17 38.28,209.38 38.6,209.8 39.1,210.47 39.76,211.34 40.52,212.34 41.32,213.39 42.1,214.4 42.87,215.37 43.65,216.35 44.46,217.36 45.31,218.4 46.2,219.5 47.16,220.7 48.17,221.98 49.21,223.28 50.26,224.54 51.3,225.7 52.32,226.75 53.34,227.73 54.36,228.65 55.38,229.51 56.4,230.3 57.42,231.01 58.44,231.63 59.45,232.21 60.47,232.75 61.5,233.3 62.54,233.86 63.58,234.4 64.62,234.92 65.66,235.42 66.7,235.9 67.73,236.34 68.75,236.76 69.76,237.15 70.78,237.53 71.8,237.9 72.82,238.26 73.84,238.61 74.86,238.94 75.88,239.27 76.9,239.6 77.92,239.93 78.94,240.25 79.96,240.56 80.98,240.88 82,241.2 83.02,241.52 84.04,241.84 85.06,242.17 86.08,242.49 87.1,242.8 88.12,243.11 89.14,243.41 90.16,243.71 91.18,244.01 92.2,244.3 93.16,244.57 94.07,244.82 95,245.08 96.05,245.36 97.3,245.7 98.73,246.09 100.28,246.51 101.99,246.96 103.88,247.46 106,248 108.47,248.62 111.28,249.31 114.22,250.02 117.1,250.7 119.7,251.3 121.65,251.75 123.09,252.1 124.58,252.42 126.7,252.83 130,253.4 134.94,254.22 141.12,255.21 147.9,256.28 154.62,257.31 160.6,258.2 165.7,258.92 170.35,259.54 174.8,260.11 179.27,260.65 184,261.2 188.97,261.75 194.02,262.26 199.19,262.78 204.5,263.31 210,263.9 215.81,264.57 221.92,265.3 228.12,266.06 234.21,266.77 240,267.4 245.17,267.9 249.86,268.32 254.53,268.7 259.66,269.1 265.7,269.6 273.28,270.23 282.08,270.96 291.19,271.72 299.67,272.42 306.6,273 311.89,273.45 316.16,273.81 319.55,274.1 322.18,274.33 324.2,274.5" fill="none" stroke="#649ec6" stroke-width="1.75" stroke-linejoin="round"/></g><rect x="137.1" y="299.1" width="181.4" height="18.4" rx="2.5" fill="#fff" fill-opacity="0.8" stroke="#d6d6d6" stroke-width="0.8"/><line x1="140.4" y1="306.8" x2="163.6" y2="306.8" stroke="#649ec6" stroke-width="1.95"/><text x="172.1" y="311" font-size="10.7" text-anchor="start" font-weight="bold" fill="#262626" >Mid-Point of Shear Modulus</text><rect x="38" y="184.2" width="286.2" height="138.2" fill="none" stroke="#333333" stroke-width="1.3"/><rect x="209.72" y="184.2" width="114.48" height="69.1" fill="#fff"/><g clip-path="url(#cci)"><polygon points="209.5,187.7 324.2,187.7 324.2,280 320.34,277.94 314.89,275 308.49,271.56 301.78,267.99 295.4,264.68 290,262 285.49,259.98 281.34,258.32 277.53,256.91 274.02,255.65 270.79,254.41 267.8,253.1 265.15,251.72 262.89,250.36 260.9,249.03 259.08,247.73 257.31,246.49 255.5,245.3 253.68,244.19 251.94,243.14 250.27,242.15 248.62,241.18 246.98,240.2 245.3,239.2 243.6,238.17 241.9,237.12 240.2,236.07 238.5,235.03 236.8,234.01 235.1,233 233.4,232.04 231.7,231.13 230,230.23 228.3,229.31 226.6,228.35 224.9,227.3 223.13,226.1 221.27,224.77 219.42,223.39 217.65,222.04 216.05,220.82 214.7,219.8 213.63,219.01 212.77,218.37 212.08,217.86 211.52,217.43 211.04,217.06 210.6,216.7 210.23,216.38 209.97,216.11 209.79,215.91 209.67,215.74 209.58,215.61 209.5,215.5" fill="#c7dcea"/><polygon points="209.5,201 209.47,200.99 209.3,200.94 209.16,200.91 209.21,200.93 209.64,201.08 210.6,201.4 212.15,201.93 214.16,202.62 216.54,203.43 219.19,204.31 222.01,205.22 224.9,206.1 227.95,206.96 231.25,207.85 234.72,208.76 238.27,209.69 241.83,210.64 245.3,211.6 248.7,212.6 252.1,213.64 255.49,214.7 258.89,215.75 262.29,216.76 265.7,217.7 269.11,218.58 272.53,219.41 275.95,220.21 279.37,220.97 282.79,221.7 286.2,222.4 289.64,223.07 293.11,223.71 296.58,224.32 300.01,224.89 303.36,225.42 306.6,225.9 309.9,226.34 313.33,226.75 316.68,227.12 319.74,227.44 322.32,227.7 324.2,227.9 324.2,250.4 322.32,250.14 319.74,249.8 316.68,249.38 313.33,248.9 309.9,248.37 306.6,247.8 303.36,247.18 300.01,246.49 296.58,245.75 293.11,244.97 289.64,244.15 286.2,243.3 282.79,242.42 279.37,241.49 275.95,240.53 272.53,239.53 269.11,238.52 265.7,237.5 262.29,236.49 258.89,235.49 255.49,234.46 252.1,233.39 248.7,232.25 245.3,231 241.83,229.63 238.27,228.17 234.72,226.63 231.25,225.04 227.95,223.42 224.9,221.8 222.01,220.05 219.19,218.12 216.54,216.16 214.16,214.33 212.15,212.76 210.6,211.6 209.64,210.94 209.21,210.67 209.16,210.66 209.3,210.8 209.47,210.95 209.5,211" fill="#a3c6dd"/><polygon points="209.5,187.7 324.2,187.7 324.2,280 320.34,277.94 314.89,275 308.49,271.56 301.78,267.99 295.4,264.68 290,262 285.49,259.98 281.34,258.32 277.53,256.91 274.02,255.65 270.79,254.41 267.8,253.1 265.15,251.72 262.89,250.36 260.9,249.03 259.08,247.73 257.31,246.49 255.5,245.3 253.68,244.19 251.94,243.14 250.27,242.15 248.62,241.18 246.98,240.2 245.3,239.2 243.6,238.17 241.9,237.12 240.2,236.07 238.5,235.03 236.8,234.01 235.1,233 233.4,232.04 231.7,231.13 230,230.23 228.3,229.31 226.6,228.35 224.9,227.3 223.13,226.1 221.27,224.77 219.42,223.39 217.65,222.04 216.05,220.82 214.7,219.8 213.63,219.01 212.77,218.37 212.08,217.86 211.52,217.43 211.04,217.06 210.6,216.7 210.23,216.38 209.97,216.11 209.79,215.91 209.67,215.74 209.58,215.61 209.5,215.5" fill="url(#hf)"/></g><line x1="233.72" y1="184.2" x2="233.72" y2="187.8" stroke="#262626" stroke-width="1.3"/><text x="233.72" y="179.6" font-size="8.2" text-anchor="middle" font-weight="bold" fill="#262626" >0.5</text><line x1="263.92" y1="184.2" x2="263.92" y2="187.8" stroke="#262626" stroke-width="1.3"/><text x="263.92" y="179.6" font-size="8.2" text-anchor="middle" font-weight="bold" fill="#262626" >1.0</text><line x1="294.12" y1="184.2" x2="294.12" y2="187.8" stroke="#262626" stroke-width="1.3"/><text x="294.12" y="179.6" font-size="8.2" text-anchor="middle" font-weight="bold" fill="#262626" >1.5</text><line x1="324.2" y1="184.6" x2="320.6" y2="184.6" stroke="#262626" stroke-width="1.3"/><text x="326.6" y="187.5" font-size="8.2" text-anchor="start" font-weight="bold" fill="#262626" >114</text><line x1="324.2" y1="199.9" x2="320.6" y2="199.9" stroke="#262626" stroke-width="1.3"/><text x="326.6" y="202.8" font-size="8.2" text-anchor="start" font-weight="bold" fill="#262626" >112</text><line x1="324.2" y1="215.4" x2="320.6" y2="215.4" stroke="#262626" stroke-width="1.3"/><text x="326.6" y="218.3" font-size="8.2" text-anchor="start" font-weight="bold" fill="#262626" >110</text><line x1="324.2" y1="230.6" x2="320.6" y2="230.6" stroke="#262626" stroke-width="1.3"/><text x="326.6" y="233.5" font-size="8.2" text-anchor="start" font-weight="bold" fill="#262626" >108</text><line x1="324.2" y1="245.8" x2="320.6" y2="245.8" stroke="#262626" stroke-width="1.3"/><text x="326.6" y="248.7" font-size="8.2" text-anchor="start" font-weight="bold" fill="#262626" >106</text><g clip-path="url(#cci)"><polyline points="209.5,207.5 209.47,207.52 209.3,207.51 209.16,207.52 209.21,207.59 209.64,207.77 210.6,208.1 212.15,208.59 214.16,209.19 216.54,209.9 219.19,210.71 222.01,211.61 224.9,212.6 227.95,213.72 231.25,215 234.72,216.38 238.27,217.77 241.83,219.14 245.3,220.4 248.7,221.57 252.1,222.69 255.49,223.78 258.89,224.84 262.29,225.88 265.7,226.9 269.11,227.91 272.53,228.89 275.95,229.85 279.37,230.79 282.79,231.71 286.2,232.6 289.64,233.49 293.11,234.37 296.58,235.24 300.01,236.06 303.36,236.82 306.6,237.5 309.9,238.11 313.33,238.66 316.68,239.16 319.74,239.58 322.32,239.93 324.2,240.2" fill="none" stroke="#649ec6" stroke-width="1.75" stroke-linejoin="round"/></g><rect x="209.72" y="184.2" width="114.48" height="69.1" fill="none" stroke="#1a1a1a" stroke-width="1.3"/><text x="10.6" y="253.3" font-size="11.9" text-anchor="middle" fill="#262626" stroke="#262626" stroke-width="0.15" transform="rotate(-90 10.6 253.3)">Shear Modulus (GPa)</text><text x="4" y="168.9" font-size="14.6" font-weight="bold" fill="#000">(c)</text><g clip-path="url(#cd)"><polygon points="382.4,289.2 387.1,289.2 387.1,280 392.2,280 392.2,271.5 399.3,271.5 399.3,262.3 443.3,262.3 443.3,253.5 469.9,253.5 469.9,217.1 668.6,217.1 668.6,315.8 382.4,315.8" fill="#b4c3e3"/><polygon points="382.4,292.5 387.1,292.5 387.1,289.2 406.5,289.2 406.5,280 526.5,280 526.5,271.9 668.6,271.9 668.6,298.2 469.9,298.2 469.9,307.2 382.4,307.2" fill="#879ed2"/><polygon points="382.4,289.2 387.1,289.2 387.1,280 392.2,280 392.2,271.5 399.3,271.5 399.3,262.3 443.3,262.3 443.3,253.5 469.9,253.5 469.9,217.1 668.6,217.1 668.6,315.8 382.4,315.8" fill="url(#hf)"/></g><line x1="418.17" y1="322.4" x2="418.17" y2="317.6" stroke="#333333" stroke-width="1"/><line x1="453.95" y1="322.4" x2="453.95" y2="317.6" stroke="#333333" stroke-width="1"/><line x1="489.72" y1="322.4" x2="489.72" y2="317.6" stroke="#333333" stroke-width="1"/><line x1="525.5" y1="322.4" x2="525.5" y2="317.6" stroke="#333333" stroke-width="1"/><line x1="561.27" y1="322.4" x2="561.27" y2="317.6" stroke="#333333" stroke-width="1"/><line x1="597.05" y1="322.4" x2="597.05" y2="317.6" stroke="#333333" stroke-width="1"/><line x1="632.82" y1="322.4" x2="632.82" y2="317.6" stroke="#333333" stroke-width="1"/><line x1="382.4" y1="208.5" x2="386.9" y2="208.5" stroke="#333333" stroke-width="1"/><text x="378.8" y="212.8" font-size="10.3" text-anchor="end" font-weight="normal" fill="#262626" stroke="#262626" stroke-width="0.15" >30</text><line x1="382.4" y1="253.1" x2="386.9" y2="253.1" stroke="#333333" stroke-width="1"/><text x="378.8" y="257.4" font-size="10.3" text-anchor="end" font-weight="normal" fill="#262626" stroke="#262626" stroke-width="0.15" >20</text><line x1="382.4" y1="298.4" x2="386.9" y2="298.4" stroke="#333333" stroke-width="1"/><text x="378.8" y="302.7" font-size="10.3" text-anchor="end" font-weight="normal" fill="#262626" stroke="#262626" stroke-width="0.15" >10</text><g clip-path="url(#cd)"><polyline points="382.4,307.2 388.7,307.2 388.7,298 417.3,298 417.3,289.2 579.7,289.2 579.7,280 668.6,280" fill="none" stroke="#4468b8" stroke-width="1.75" stroke-linejoin="round"/></g><rect x="548.4" y="299.1" width="115.1" height="18.4" rx="2.5" fill="#fff" fill-opacity="0.8" stroke="#d6d6d6" stroke-width="0.8"/><line x1="551.7" y1="306.8" x2="574.9" y2="306.8" stroke="#4468b8" stroke-width="1.95"/><text x="583.4" y="311" font-size="10.7" text-anchor="start" font-weight="bold" fill="#262626" >Mid-Point of Al</text><rect x="382.4" y="184.2" width="286.2" height="138.2" fill="none" stroke="#333333" stroke-width="1.3"/><rect x="554.12" y="184.2" width="114.48" height="69.1" fill="#fff"/><g clip-path="url(#cdi)"><polygon points="553.9,213 570.9,213 570.9,202 589.7,202 589.7,190.1 618.9,190.1 618.9,185.6 668.6,185.6 668.6,247.6 553.9,247.6" fill="#b4c3e3"/><polygon points="553.9,224.9 586.6,224.9 586.6,213 646.4,213 646.4,204 647.6,204 647.6,209 651.6,209 651.6,201.3 668.6,201.3 668.6,235.6 553.9,235.6" fill="#879ed2"/><polygon points="553.9,213 570.9,213 570.9,202 589.7,202 589.7,190.1 618.9,190.1 618.9,185.6 668.6,185.6 668.6,247.6 553.9,247.6" fill="url(#hf)"/></g><line x1="578.12" y1="184.2" x2="578.12" y2="187.8" stroke="#262626" stroke-width="1.3"/><text x="578.12" y="179.6" font-size="8.2" text-anchor="middle" font-weight="bold" fill="#262626" >0.5</text><line x1="608.32" y1="184.2" x2="608.32" y2="187.8" stroke="#262626" stroke-width="1.3"/><text x="608.32" y="179.6" font-size="8.2" text-anchor="middle" font-weight="bold" fill="#262626" >1.0</text><line x1="638.52" y1="184.2" x2="638.52" y2="187.8" stroke="#262626" stroke-width="1.3"/><text x="638.52" y="179.6" font-size="8.2" text-anchor="middle" font-weight="bold" fill="#262626" >1.5</text><line x1="668.6" y1="195.2" x2="665" y2="195.2" stroke="#262626" stroke-width="1.3"/><text x="671" y="198.1" font-size="8.2" text-anchor="start" font-weight="bold" fill="#262626" >15</text><line x1="668.6" y1="224.3" x2="665" y2="224.3" stroke="#262626" stroke-width="1.3"/><text x="671" y="227.2" font-size="8.2" text-anchor="start" font-weight="bold" fill="#262626" >10</text><g clip-path="url(#cdi)"><polyline points="553.9,235.8 576.4,235.8 576.4,224.3 668.6,224.3" fill="none" stroke="#4468b8" stroke-width="1.75" stroke-linejoin="round"/></g><rect x="554.12" y="184.2" width="114.48" height="69.1" fill="none" stroke="#1a1a1a" stroke-width="1.3"/><text x="361.2" y="253.3" font-size="11.9" text-anchor="middle" fill="#262626" stroke="#262626" stroke-width="0.15" transform="rotate(-90 361.2 253.3)">Percent (at. %)</text><text x="339.9" y="168.8" font-size="14.6" font-weight="bold" fill="#000">(d)</text><g clip-path="url(#ce)"><polygon points="38,429.3 48.2,429.3 48.2,421.5 52.3,421.5 52.3,413.7 60.5,413.7 60.5,406.2 66.6,406.2 66.6,398 81.3,398 81.3,374.1 98.3,374.1 98.3,366.3 178.5,366.3 178.5,358.1 324.2,358.1 324.2,483.8 48.2,483.8 48.2,475.6 38,475.6" fill="#d0ecde"/><polygon points="38,445 65.6,445 65.6,437.4 104.4,437.4 104.4,429.3 163.7,429.3 163.7,421.5 324.2,421.5 324.2,452.6 236.1,452.6 236.1,460.3 119.7,460.3 119.7,468.5 54.3,468.5 54.3,460.3 38,460.3" fill="#b2e1c9"/><polygon points="38,429.3 48.2,429.3 48.2,421.5 52.3,421.5 52.3,413.7 60.5,413.7 60.5,406.2 66.6,406.2 66.6,398 81.3,398 81.3,374.1 98.3,374.1 98.3,366.3 178.5,366.3 178.5,358.1 324.2,358.1 324.2,483.8 48.2,483.8 48.2,475.6 38,475.6" fill="url(#hf)"/></g><line x1="73.78" y1="490.4" x2="73.78" y2="485.6" stroke="#333333" stroke-width="1"/><line x1="109.55" y1="490.4" x2="109.55" y2="485.6" stroke="#333333" stroke-width="1"/><line x1="145.32" y1="490.4" x2="145.32" y2="485.6" stroke="#333333" stroke-width="1"/><line x1="181.1" y1="490.4" x2="181.1" y2="485.6" stroke="#333333" stroke-width="1"/><line x1="216.88" y1="490.4" x2="216.88" y2="485.6" stroke="#333333" stroke-width="1"/><line x1="252.65" y1="490.4" x2="252.65" y2="485.6" stroke="#333333" stroke-width="1"/><line x1="288.42" y1="490.4" x2="288.42" y2="485.6" stroke="#333333" stroke-width="1"/><line x1="38" y1="389.8" x2="42.5" y2="389.8" stroke="#333333" stroke-width="1"/><text x="34.4" y="394.1" font-size="10.3" text-anchor="end" font-weight="normal" fill="#262626" stroke="#262626" stroke-width="0.15" >30</text><line x1="38" y1="429.3" x2="42.5" y2="429.3" stroke="#333333" stroke-width="1"/><text x="34.4" y="433.6" font-size="10.3" text-anchor="end" font-weight="normal" fill="#262626" stroke="#262626" stroke-width="0.15" >20</text><line x1="38" y1="468.5" x2="42.5" y2="468.5" stroke="#333333" stroke-width="1"/><text x="34.4" y="472.8" font-size="10.3" text-anchor="end" font-weight="normal" fill="#262626" stroke="#262626" stroke-width="0.15" >10</text><g clip-path="url(#ce)"><polyline points="38,459.3 39.6,459.3 39.8,452.6 39.8,452.6 121.8,452.6 121.8,445 190.1,445 190.1,436.8 324.2,436.8" fill="none" stroke="#80cda5" stroke-width="1.75" stroke-linejoin="round"/></g><rect x="201.4" y="467.1" width="117.1" height="18.4" rx="2.5" fill="#fff" fill-opacity="0.8" stroke="#d6d6d6" stroke-width="0.8"/><line x1="204.7" y1="474.8" x2="227.9" y2="474.8" stroke="#80cda5" stroke-width="1.95"/><text x="236.4" y="479" font-size="10.7" text-anchor="start" font-weight="bold" fill="#262626" >Mid-Point of Fe</text><rect x="38" y="352.2" width="286.2" height="138.2" fill="none" stroke="#333333" stroke-width="1.3"/><rect x="209.72" y="352.2" width="114.48" height="69.1" fill="#fff"/><g clip-path="url(#cei)"><polygon points="209.5,368.9 250.5,368.9 250.5,362.5 261.5,362.5 261.5,355.4 324.2,355.4 324.2,418.4 247.4,418.4 247.4,410.9 209.5,410.9" fill="#d0ecde"/><polygon points="209.5,383.3 307.6,383.3 308.2,377.8 309.2,377.8 309.7,383.3 324.2,383.3 324.2,402.8 274.2,402.8 274.2,401 262,401 262,398.5 259.5,398.5 259.5,400.3 256.5,400.3 256.5,396.9 209.5,396.9" fill="#b2e1c9"/><polygon points="209.5,368.9 250.5,368.9 250.5,362.5 261.5,362.5 261.5,355.4 324.2,355.4 324.2,418.4 247.4,418.4 247.4,410.9 209.5,410.9" fill="url(#hf)"/></g><line x1="233.72" y1="352.2" x2="233.72" y2="355.8" stroke="#262626" stroke-width="1.3"/><text x="233.72" y="347.6" font-size="8.2" text-anchor="middle" font-weight="bold" fill="#262626" >0.5</text><line x1="263.92" y1="352.2" x2="263.92" y2="355.8" stroke="#262626" stroke-width="1.3"/><text x="263.92" y="347.6" font-size="8.2" text-anchor="middle" font-weight="bold" fill="#262626" >1.0</text><line x1="294.12" y1="352.2" x2="294.12" y2="355.8" stroke="#262626" stroke-width="1.3"/><text x="294.12" y="347.6" font-size="8.2" text-anchor="middle" font-weight="bold" fill="#262626" >1.5</text><line x1="324.2" y1="369.7" x2="320.6" y2="369.7" stroke="#262626" stroke-width="1.3"/><text x="326.6" y="372.6" font-size="8.2" text-anchor="start" font-weight="bold" fill="#262626" >20</text><line x1="324.2" y1="386.8" x2="320.6" y2="386.8" stroke="#262626" stroke-width="1.3"/><text x="326.6" y="389.7" font-size="8.2" text-anchor="start" font-weight="bold" fill="#262626" >15</text><line x1="324.2" y1="403.9" x2="320.6" y2="403.9" stroke="#262626" stroke-width="1.3"/><text x="326.6" y="406.8" font-size="8.2" text-anchor="start" font-weight="bold" fill="#262626" >10</text><g clip-path="url(#cei)"><polyline points="209.5,396 211.5,396 213,389.8 324.2,389.8" fill="none" stroke="#80cda5" stroke-width="1.75" stroke-linejoin="round"/></g><rect x="209.72" y="352.2" width="114.48" height="69.1" fill="none" stroke="#1a1a1a" stroke-width="1.3"/><text x="16.6" y="421.3" font-size="11.9" text-anchor="middle" fill="#262626" stroke="#262626" stroke-width="0.15" transform="rotate(-90 16.6 421.3)">Percent (at. %)</text><text x="4" y="337.6" font-size="14.6" font-weight="bold" fill="#000">(e)</text><g clip-path="url(#cf)"><polygon points="382.4,365.9 487.6,365.9 487.6,358.1 668.6,358.1 668.6,476.7 492.3,476.7 492.3,469.5 464.7,469.5 464.7,462 432,462 432,454.2 412.6,454.2 412.6,446.4 395.3,446.4 395.3,439.9 382.4,439.9" fill="#fdefd0"/><polygon points="382.4,388.4 437.2,388.4 437.2,395.3 537.5,395.3 537.5,403.1 668.6,403.1 668.6,446.4 584.2,446.4 584.2,439.5 507.7,439.5 507.7,431.7 450.4,431.7 450.4,423.9 411.6,423.9 411.6,417 396.3,417 396.3,409.2 382.4,409.2" fill="#fce4b2"/><polygon points="382.4,365.9 487.6,365.9 487.6,358.1 668.6,358.1 668.6,476.7 492.3,476.7 492.3,469.5 464.7,469.5 464.7,462 432,462 432,454.2 412.6,454.2 412.6,446.4 395.3,446.4 395.3,439.9 382.4,439.9" fill="url(#hf)"/></g><line x1="418.17" y1="490.4" x2="418.17" y2="485.6" stroke="#333333" stroke-width="1"/><line x1="453.95" y1="490.4" x2="453.95" y2="485.6" stroke="#333333" stroke-width="1"/><line x1="489.72" y1="490.4" x2="489.72" y2="485.6" stroke="#333333" stroke-width="1"/><line x1="525.5" y1="490.4" x2="525.5" y2="485.6" stroke="#333333" stroke-width="1"/><line x1="561.27" y1="490.4" x2="561.27" y2="485.6" stroke="#333333" stroke-width="1"/><line x1="597.05" y1="490.4" x2="597.05" y2="485.6" stroke="#333333" stroke-width="1"/><line x1="632.82" y1="490.4" x2="632.82" y2="485.6" stroke="#333333" stroke-width="1"/><line x1="382.4" y1="358.5" x2="386.9" y2="358.5" stroke="#333333" stroke-width="1"/><text x="378.8" y="362.8" font-size="10.3" text-anchor="end" font-weight="normal" fill="#262626" stroke="#262626" stroke-width="0.15" >40</text><line x1="382.4" y1="395.6" x2="386.9" y2="395.6" stroke="#333333" stroke-width="1"/><text x="378.8" y="399.9" font-size="10.3" text-anchor="end" font-weight="normal" fill="#262626" stroke="#262626" stroke-width="0.15" >30</text><line x1="382.4" y1="432.3" x2="386.9" y2="432.3" stroke="#333333" stroke-width="1"/><text x="378.8" y="436.6" font-size="10.3" text-anchor="end" font-weight="normal" fill="#262626" stroke="#262626" stroke-width="0.15" >20</text><line x1="382.4" y1="469.4" x2="386.9" y2="469.4" stroke="#333333" stroke-width="1"/><text x="378.8" y="473.7" font-size="10.3" text-anchor="end" font-weight="normal" fill="#262626" stroke="#262626" stroke-width="0.15" >10</text><g clip-path="url(#cf)"><polyline points="382.4,394.5 394.2,394.5 394.2,402.1 428.4,402.1 428.4,409.8 485.2,409.8 485.2,417.4 550.5,417.4 550.5,423.9 640.4,423.9 640.4,431.7 668.6,431.7" fill="none" stroke="#fad27d" stroke-width="1.75" stroke-linejoin="round"/></g><rect x="544.3" y="467.1" width="119.2" height="18.4" rx="2.5" fill="#fff" fill-opacity="0.8" stroke="#d6d6d6" stroke-width="0.8"/><line x1="547.6" y1="474.8" x2="570.8" y2="474.8" stroke="#fad27d" stroke-width="1.95"/><text x="579.3" y="479" font-size="10.7" text-anchor="start" font-weight="bold" fill="#262626" >Mid-Point of Co</text><rect x="382.4" y="352.2" width="286.2" height="138.2" fill="none" stroke="#333333" stroke-width="1.3"/><rect x="554.12" y="352.2" width="114.48" height="69.1" fill="#fff"/><g clip-path="url(#cfi)"><polygon points="553.9,361.2 668.6,361.2 668.6,418.4 603.6,418.4 603.6,412.9 566.8,412.9 566.8,408.2 553.9,408.2" fill="#fdefd0"/><polygon points="553.9,376.9 668.6,376.9 668.6,397.4 604.6,397.4 604.6,391.9 559.7,391.9 559.7,387 553.9,387" fill="#fce4b2"/><polygon points="553.9,361.2 668.6,361.2 668.6,418.4 603.6,418.4 603.6,412.9 566.8,412.9 566.8,408.2 553.9,408.2" fill="url(#hf)"/></g><line x1="578.12" y1="352.2" x2="578.12" y2="355.8" stroke="#262626" stroke-width="1.3"/><text x="578.12" y="347.6" font-size="8.2" text-anchor="middle" font-weight="bold" fill="#262626" >0.5</text><line x1="608.32" y1="352.2" x2="608.32" y2="355.8" stroke="#262626" stroke-width="1.3"/><text x="608.32" y="347.6" font-size="8.2" text-anchor="middle" font-weight="bold" fill="#262626" >1.0</text><line x1="638.52" y1="352.2" x2="638.52" y2="355.8" stroke="#262626" stroke-width="1.3"/><text x="638.52" y="347.6" font-size="8.2" text-anchor="middle" font-weight="bold" fill="#262626" >1.5</text><line x1="668.6" y1="356.6" x2="665" y2="356.6" stroke="#262626" stroke-width="1.3"/><text x="671" y="359.5" font-size="8.2" text-anchor="start" font-weight="bold" fill="#262626" >40</text><line x1="668.6" y1="369.7" x2="665" y2="369.7" stroke="#262626" stroke-width="1.3"/><text x="671" y="372.6" font-size="8.2" text-anchor="start" font-weight="bold" fill="#262626" >35</text><line x1="668.6" y1="382.8" x2="665" y2="382.8" stroke="#262626" stroke-width="1.3"/><text x="671" y="385.7" font-size="8.2" text-anchor="start" font-weight="bold" fill="#262626" >30</text><line x1="668.6" y1="395.2" x2="665" y2="395.2" stroke="#262626" stroke-width="1.3"/><text x="671" y="398.1" font-size="8.2" text-anchor="start" font-weight="bold" fill="#262626" >25</text><line x1="668.6" y1="408.3" x2="665" y2="408.3" stroke="#262626" stroke-width="1.3"/><text x="671" y="411.2" font-size="8.2" text-anchor="start" font-weight="bold" fill="#262626" >20</text><g clip-path="url(#cfi)"><polyline points="553.9,382.2 602.6,382.2 602.6,387.2 668.6,387.2" fill="none" stroke="#fad27d" stroke-width="1.75" stroke-linejoin="round"/></g><rect x="554.12" y="352.2" width="114.48" height="69.1" fill="none" stroke="#1a1a1a" stroke-width="1.3"/><text x="361.2" y="421.3" font-size="11.9" text-anchor="middle" fill="#262626" stroke="#262626" stroke-width="0.15" transform="rotate(-90 361.2 421.3)">Percent (at. %)</text><text x="339.3" y="337.6" font-size="14.6" font-weight="bold" fill="#000">(f)</text><g clip-path="url(#cg)"><polygon points="38,568.6 47.8,568.6 47.8,557.8 62.9,557.8 62.9,547 77.2,547 77.2,536.8 134.1,536.8 134.1,526.1 324.2,526.1 324.2,651.8 116.7,651.8 116.7,642.2 38,642.2" fill="#f9c7b7"/><polygon points="38,568.6 111.2,568.6 111.2,579.3 324.2,579.3 324.2,620.6 94.8,620.6 94.8,631.4 38,631.4" fill="#f5a58c"/><polygon points="38,568.6 47.8,568.6 47.8,557.8 62.9,557.8 62.9,547 77.2,547 77.2,536.8 134.1,536.8 134.1,526.1 324.2,526.1 324.2,651.8 116.7,651.8 116.7,642.2 38,642.2" fill="url(#hf)"/></g><line x1="73.78" y1="658.4" x2="73.78" y2="653.6" stroke="#333333" stroke-width="1"/><line x1="109.55" y1="658.4" x2="109.55" y2="653.6" stroke="#333333" stroke-width="1"/><line x1="145.32" y1="658.4" x2="145.32" y2="653.6" stroke="#333333" stroke-width="1"/><line x1="181.1" y1="658.4" x2="181.1" y2="653.6" stroke="#333333" stroke-width="1"/><line x1="216.88" y1="658.4" x2="216.88" y2="653.6" stroke="#333333" stroke-width="1"/><line x1="252.65" y1="658.4" x2="252.65" y2="653.6" stroke="#333333" stroke-width="1"/><line x1="288.42" y1="658.4" x2="288.42" y2="653.6" stroke="#333333" stroke-width="1"/><text x="38" y="669.7" font-size="10.3" text-anchor="middle" font-weight="normal" fill="#262626" stroke="#262626" stroke-width="0.15" >0.0</text><text x="73.78" y="669.7" font-size="10.3" text-anchor="middle" font-weight="normal" fill="#262626" stroke="#262626" stroke-width="0.15" >2.5</text><text x="109.55" y="669.7" font-size="10.3" text-anchor="middle" font-weight="normal" fill="#262626" stroke="#262626" stroke-width="0.15" >5.0</text><text x="145.32" y="669.7" font-size="10.3" text-anchor="middle" font-weight="normal" fill="#262626" stroke="#262626" stroke-width="0.15" >7.5</text><text x="181.1" y="669.7" font-size="10.3" text-anchor="middle" font-weight="normal" fill="#262626" stroke="#262626" stroke-width="0.15" >10.0</text><text x="216.88" y="669.7" font-size="10.3" text-anchor="middle" font-weight="normal" fill="#262626" stroke="#262626" stroke-width="0.15" >12.5</text><text x="252.65" y="669.7" font-size="10.3" text-anchor="middle" font-weight="normal" fill="#262626" stroke="#262626" stroke-width="0.15" >15.0</text><text x="288.42" y="669.7" font-size="10.3" text-anchor="middle" font-weight="normal" fill="#262626" stroke="#262626" stroke-width="0.15" >17.5</text><text x="324.2" y="669.7" font-size="10.3" text-anchor="middle" font-weight="normal" fill="#262626" stroke="#262626" stroke-width="0.15" >20.0</text><line x1="38" y1="542.1" x2="42.5" y2="542.1" stroke="#333333" stroke-width="1"/><text x="34.4" y="546.4" font-size="10.3" text-anchor="end" font-weight="normal" fill="#262626" stroke="#262626" stroke-width="0.15" >35</text><line x1="38" y1="568.4" x2="42.5" y2="568.4" stroke="#333333" stroke-width="1"/><text x="34.4" y="572.7" font-size="10.3" text-anchor="end" font-weight="normal" fill="#262626" stroke="#262626" stroke-width="0.15" >30</text><line x1="38" y1="594.6" x2="42.5" y2="594.6" stroke="#333333" stroke-width="1"/><text x="34.4" y="598.9" font-size="10.3" text-anchor="end" font-weight="normal" fill="#262626" stroke="#262626" stroke-width="0.15" >25</text><line x1="38" y1="620.6" x2="42.5" y2="620.6" stroke="#333333" stroke-width="1"/><text x="34.4" y="624.9" font-size="10.3" text-anchor="end" font-weight="normal" fill="#262626" stroke="#262626" stroke-width="0.15" >20</text><line x1="38" y1="646.7" x2="42.5" y2="646.7" stroke="#333333" stroke-width="1"/><text x="34.4" y="651" font-size="10.3" text-anchor="end" font-weight="normal" fill="#262626" stroke="#262626" stroke-width="0.15" >15</text><g clip-path="url(#cg)"><polyline points="38,578.5 39.7,578.5 39.7,630.8 49.3,630.8 49.3,620.5 52,620.5 52,599.5 53.3,599.5 53.3,610.4 54.3,610.4 54.3,599.5 55.7,599.5 55.7,610.4 56.6,610.4 56.6,599.5 111.7,599.5 111.7,609.6 114.8,609.6 114.8,601.5 115.9,601.5 115.9,609.6 117.9,609.6 117.9,599.5 124.8,599.5 124.8,609.6 133.6,609.6 133.6,599.5 134.6,599.5 134.6,609.6 136.8,609.6 136.8,599.5 138,599.5 138,609.6 140.5,609.6 140.5,603 141.5,603 141.5,609.6 143.8,609.6 143.8,599.5 324.2,599.5" fill="none" stroke="#f0734b" stroke-width="2.0" stroke-linejoin="round"/></g><rect x="202.4" y="635.1" width="116.1" height="18.4" rx="2.5" fill="#fff" fill-opacity="0.8" stroke="#d6d6d6" stroke-width="0.8"/><line x1="205.7" y1="642.8" x2="228.9" y2="642.8" stroke="#f0734b" stroke-width="2.2"/><text x="237.4" y="647" font-size="10.7" text-anchor="start" font-weight="bold" fill="#262626" >Mid-Point of Cr</text><rect x="38" y="520.2" width="286.2" height="138.2" fill="none" stroke="#333333" stroke-width="1.3"/><rect x="209.72" y="520.2" width="114.48" height="69.1" fill="#fff"/><g clip-path="url(#cgi)"><polygon points="209.5,534.3 244.3,534.3 244.3,527.2 306.6,527.2 306.6,521.6 324.2,521.6 324.2,585 209.5,585" fill="#f9c7b7"/><polygon points="209.5,534.3 324.2,534.3 324.2,577.6 209.5,577.6" fill="#f5a58c"/><polygon points="209.5,534.3 244.3,534.3 244.3,527.2 306.6,527.2 306.6,521.6 324.2,521.6 324.2,585 209.5,585" fill="url(#hf)"/></g><line x1="233.72" y1="520.2" x2="233.72" y2="523.8" stroke="#262626" stroke-width="1.3"/><text x="233.72" y="515.6" font-size="8.2" text-anchor="middle" font-weight="bold" fill="#262626" >0.5</text><line x1="263.92" y1="520.2" x2="263.92" y2="523.8" stroke="#262626" stroke-width="1.3"/><text x="263.92" y="515.6" font-size="8.2" text-anchor="middle" font-weight="bold" fill="#262626" >1.0</text><line x1="294.12" y1="520.2" x2="294.12" y2="523.8" stroke="#262626" stroke-width="1.3"/><text x="294.12" y="515.6" font-size="8.2" text-anchor="middle" font-weight="bold" fill="#262626" >1.5</text><line x1="324.2" y1="535.1" x2="320.6" y2="535.1" stroke="#262626" stroke-width="1.3"/><text x="326.6" y="538" font-size="8.2" text-anchor="start" font-weight="bold" fill="#262626" >30</text><line x1="324.2" y1="553" x2="320.6" y2="553" stroke="#262626" stroke-width="1.3"/><text x="326.6" y="555.9" font-size="8.2" text-anchor="start" font-weight="bold" fill="#262626" >25</text><line x1="324.2" y1="571.1" x2="320.6" y2="571.1" stroke="#262626" stroke-width="1.3"/><text x="326.6" y="574" font-size="8.2" text-anchor="start" font-weight="bold" fill="#262626" >20</text><g clip-path="url(#cgi)"><polyline points="209.5,541.5 211.2,541.5 214.2,578.2 250.4,578.2 252.5,571.1 262.7,571.1 266.8,556.8 269.8,563.3 272.9,556.8 281.7,556.8 283.7,563.3 285.8,556.8 324.2,556.8" fill="none" stroke="#f0734b" stroke-width="2.0" stroke-linejoin="round"/></g><rect x="209.72" y="520.2" width="114.48" height="69.1" fill="none" stroke="#1a1a1a" stroke-width="1.3"/><text x="16.6" y="589.3" font-size="11.9" text-anchor="middle" fill="#262626" stroke="#262626" stroke-width="0.15" transform="rotate(-90 16.6 589.3)">Percent (at. %)</text><text x="4" y="506.6" font-size="14.6" font-weight="bold" fill="#000">(g)</text><g clip-path="url(#ch)"><polygon points="382.4,548.6 388.1,548.6 388.1,541.5 395.3,541.5 395.3,533.9 432,533.9 432,526.1 668.6,526.1 668.6,651.8 475,651.8 475,644.3 443.3,644.3 443.3,636.9 410.6,636.9 410.6,628.3 392.2,628.3 392.2,621.2 389.1,621.2 389.1,610.9 382.4,610.9" fill="#df99b7"/><polygon points="382.4,571.1 551.5,571.1 551.5,588.5 668.6,588.5 668.6,615 513.8,615 513.8,607.5 414.7,607.5 414.7,599.7 391.2,599.7 391.2,592.6 382.4,592.6" fill="#cc5c8c"/><polygon points="382.4,548.6 388.1,548.6 388.1,541.5 395.3,541.5 395.3,533.9 432,533.9 432,526.1 668.6,526.1 668.6,651.8 475,651.8 475,644.3 443.3,644.3 443.3,636.9 410.6,636.9 410.6,628.3 392.2,628.3 392.2,621.2 389.1,621.2 389.1,610.9 382.4,610.9" fill="url(#hf)"/></g><line x1="418.17" y1="658.4" x2="418.17" y2="653.6" stroke="#333333" stroke-width="1"/><line x1="453.95" y1="658.4" x2="453.95" y2="653.6" stroke="#333333" stroke-width="1"/><line x1="489.72" y1="658.4" x2="489.72" y2="653.6" stroke="#333333" stroke-width="1"/><line x1="525.5" y1="658.4" x2="525.5" y2="653.6" stroke="#333333" stroke-width="1"/><line x1="561.27" y1="658.4" x2="561.27" y2="653.6" stroke="#333333" stroke-width="1"/><line x1="597.05" y1="658.4" x2="597.05" y2="653.6" stroke="#333333" stroke-width="1"/><line x1="632.82" y1="658.4" x2="632.82" y2="653.6" stroke="#333333" stroke-width="1"/><text x="382.4" y="669.7" font-size="10.3" text-anchor="middle" font-weight="normal" fill="#262626" stroke="#262626" stroke-width="0.15" >0.0</text><text x="418.17" y="669.7" font-size="10.3" text-anchor="middle" font-weight="normal" fill="#262626" stroke="#262626" stroke-width="0.15" >2.5</text><text x="453.95" y="669.7" font-size="10.3" text-anchor="middle" font-weight="normal" fill="#262626" stroke="#262626" stroke-width="0.15" >5.0</text><text x="489.72" y="669.7" font-size="10.3" text-anchor="middle" font-weight="normal" fill="#262626" stroke="#262626" stroke-width="0.15" >7.5</text><text x="525.5" y="669.7" font-size="10.3" text-anchor="middle" font-weight="normal" fill="#262626" stroke="#262626" stroke-width="0.15" >10.0</text><text x="561.27" y="669.7" font-size="10.3" text-anchor="middle" font-weight="normal" fill="#262626" stroke="#262626" stroke-width="0.15" >12.5</text><text x="597.05" y="669.7" font-size="10.3" text-anchor="middle" font-weight="normal" fill="#262626" stroke="#262626" stroke-width="0.15" >15.0</text><text x="632.82" y="669.7" font-size="10.3" text-anchor="middle" font-weight="normal" fill="#262626" stroke="#262626" stroke-width="0.15" >17.5</text><text x="668.6" y="669.7" font-size="10.3" text-anchor="middle" font-weight="normal" fill="#262626" stroke="#262626" stroke-width="0.15" >20.0</text><line x1="382.4" y1="526.1" x2="386.9" y2="526.1" stroke="#333333" stroke-width="1"/><text x="378.8" y="530.4" font-size="10.3" text-anchor="end" font-weight="normal" fill="#262626" stroke="#262626" stroke-width="0.15" >40</text><line x1="382.4" y1="563.3" x2="386.9" y2="563.3" stroke="#333333" stroke-width="1"/><text x="378.8" y="567.6" font-size="10.3" text-anchor="end" font-weight="normal" fill="#262626" stroke="#262626" stroke-width="0.15" >30</text><line x1="382.4" y1="600.1" x2="386.9" y2="600.1" stroke="#333333" stroke-width="1"/><text x="378.8" y="604.4" font-size="10.3" text-anchor="end" font-weight="normal" fill="#262626" stroke="#262626" stroke-width="0.15" >20</text><line x1="382.4" y1="637.1" x2="386.9" y2="637.1" stroke="#333333" stroke-width="1"/><text x="378.8" y="641.4" font-size="10.3" text-anchor="end" font-weight="normal" fill="#262626" stroke="#262626" stroke-width="0.15" >10</text><g clip-path="url(#ch)"><polyline points="382.4,585 387.1,585 388.2,578.2 392,578.2 393.2,585 430,585 430.6,592.6 431.4,592.6 432,585 433.5,585 434.5,592.6 607.7,592.6 607.7,599.7 668.6,599.7" fill="none" stroke="#b0004b" stroke-width="2.0" stroke-linejoin="round"/></g><rect x="547.8" y="635.1" width="115.7" height="18.4" rx="2.5" fill="#fff" fill-opacity="0.8" stroke="#d6d6d6" stroke-width="0.8"/><line x1="551.1" y1="642.8" x2="574.3" y2="642.8" stroke="#b0004b" stroke-width="2.2"/><text x="582.8" y="647" font-size="10.7" text-anchor="start" font-weight="bold" fill="#262626" >Mid-Point of Ni</text><rect x="382.4" y="520.2" width="286.2" height="138.2" fill="none" stroke="#333333" stroke-width="1.3"/><rect x="554.12" y="520.2" width="114.48" height="69.1" fill="#fff"/><g clip-path="url(#chi)"><polygon points="553.9,533.9 575,533.9 575,528.8 602.1,528.8 602.1,524.2 668.6,524.2 668.6,585 590.3,585 590.3,579.7 577,579.7 577,574.8 553.9,574.8" fill="#df99b7"/><polygon points="553.9,548.2 668.6,548.2 668.6,565.7 593.5,565.7 593.5,564.5 588.5,564.5 588.5,562.8 585.5,562.8 585.5,564.5 581.5,564.5 581.5,562.8 553.9,562.8" fill="#cc5c8c"/><polygon points="553.9,533.9 575,533.9 575,528.8 602.1,528.8 602.1,524.2 668.6,524.2 668.6,585 590.3,585 590.3,579.7 577,579.7 577,574.8 553.9,574.8" fill="url(#hf)"/></g><line x1="578.12" y1="520.2" x2="578.12" y2="523.8" stroke="#262626" stroke-width="1.3"/><text x="578.12" y="515.6" font-size="8.2" text-anchor="middle" font-weight="bold" fill="#262626" >0.5</text><line x1="608.32" y1="520.2" x2="608.32" y2="523.8" stroke="#262626" stroke-width="1.3"/><text x="608.32" y="515.6" font-size="8.2" text-anchor="middle" font-weight="bold" fill="#262626" >1.0</text><line x1="638.52" y1="520.2" x2="638.52" y2="523.8" stroke="#262626" stroke-width="1.3"/><text x="638.52" y="515.6" font-size="8.2" text-anchor="middle" font-weight="bold" fill="#262626" >1.5</text><line x1="668.6" y1="531.7" x2="665" y2="531.7" stroke="#262626" stroke-width="1.3"/><text x="671" y="534.6" font-size="8.2" text-anchor="start" font-weight="bold" fill="#262626" >35</text><line x1="668.6" y1="543" x2="665" y2="543" stroke="#262626" stroke-width="1.3"/><text x="671" y="545.9" font-size="8.2" text-anchor="start" font-weight="bold" fill="#262626" >30</text><line x1="668.6" y1="554.8" x2="665" y2="554.8" stroke="#262626" stroke-width="1.3"/><text x="671" y="557.7" font-size="8.2" text-anchor="start" font-weight="bold" fill="#262626" >25</text><line x1="668.6" y1="566.1" x2="665" y2="566.1" stroke="#262626" stroke-width="1.3"/><text x="671" y="569" font-size="8.2" text-anchor="start" font-weight="bold" fill="#262626" >20</text><line x1="668.6" y1="577.9" x2="665" y2="577.9" stroke="#262626" stroke-width="1.3"/><text x="671" y="580.8" font-size="8.2" text-anchor="start" font-weight="bold" fill="#262626" >15</text><g clip-path="url(#chi)"><polyline points="553.9,556.4 561.7,556.4 563,554.3 564.8,556.4 570.9,556.4 578,551.7 589.3,551.7 594.4,556.4 668.6,556.4" fill="none" stroke="#b0004b" stroke-width="2.0" stroke-linejoin="round"/></g><rect x="554.12" y="520.2" width="114.48" height="69.1" fill="none" stroke="#1a1a1a" stroke-width="1.3"/><text x="361.2" y="589.3" font-size="11.9" text-anchor="middle" fill="#262626" stroke="#262626" stroke-width="0.15" transform="rotate(-90 361.2 589.3)">Percent (at. %)</text><text x="339.9" y="506.6" font-size="14.6" font-weight="bold" fill="#000">(h)</text><text x="181.1" y="683.8" font-size="12.1" text-anchor="middle" fill="#262626">Percent of the Top <tspan font-style="italic">P</tspan><tspan font-style="italic" font-size="9" dy="2.2">index</tspan><tspan dy="-2.2"> (%)</tspan></text><text x="525.5" y="683.8" font-size="12.1" text-anchor="middle" fill="#262626">Percent of the Top <tspan font-style="italic">P</tspan><tspan font-style="italic" font-size="9" dy="2.2">index</tspan><tspan dy="-2.2"> (%)</tspan></text></svg></body></html>
